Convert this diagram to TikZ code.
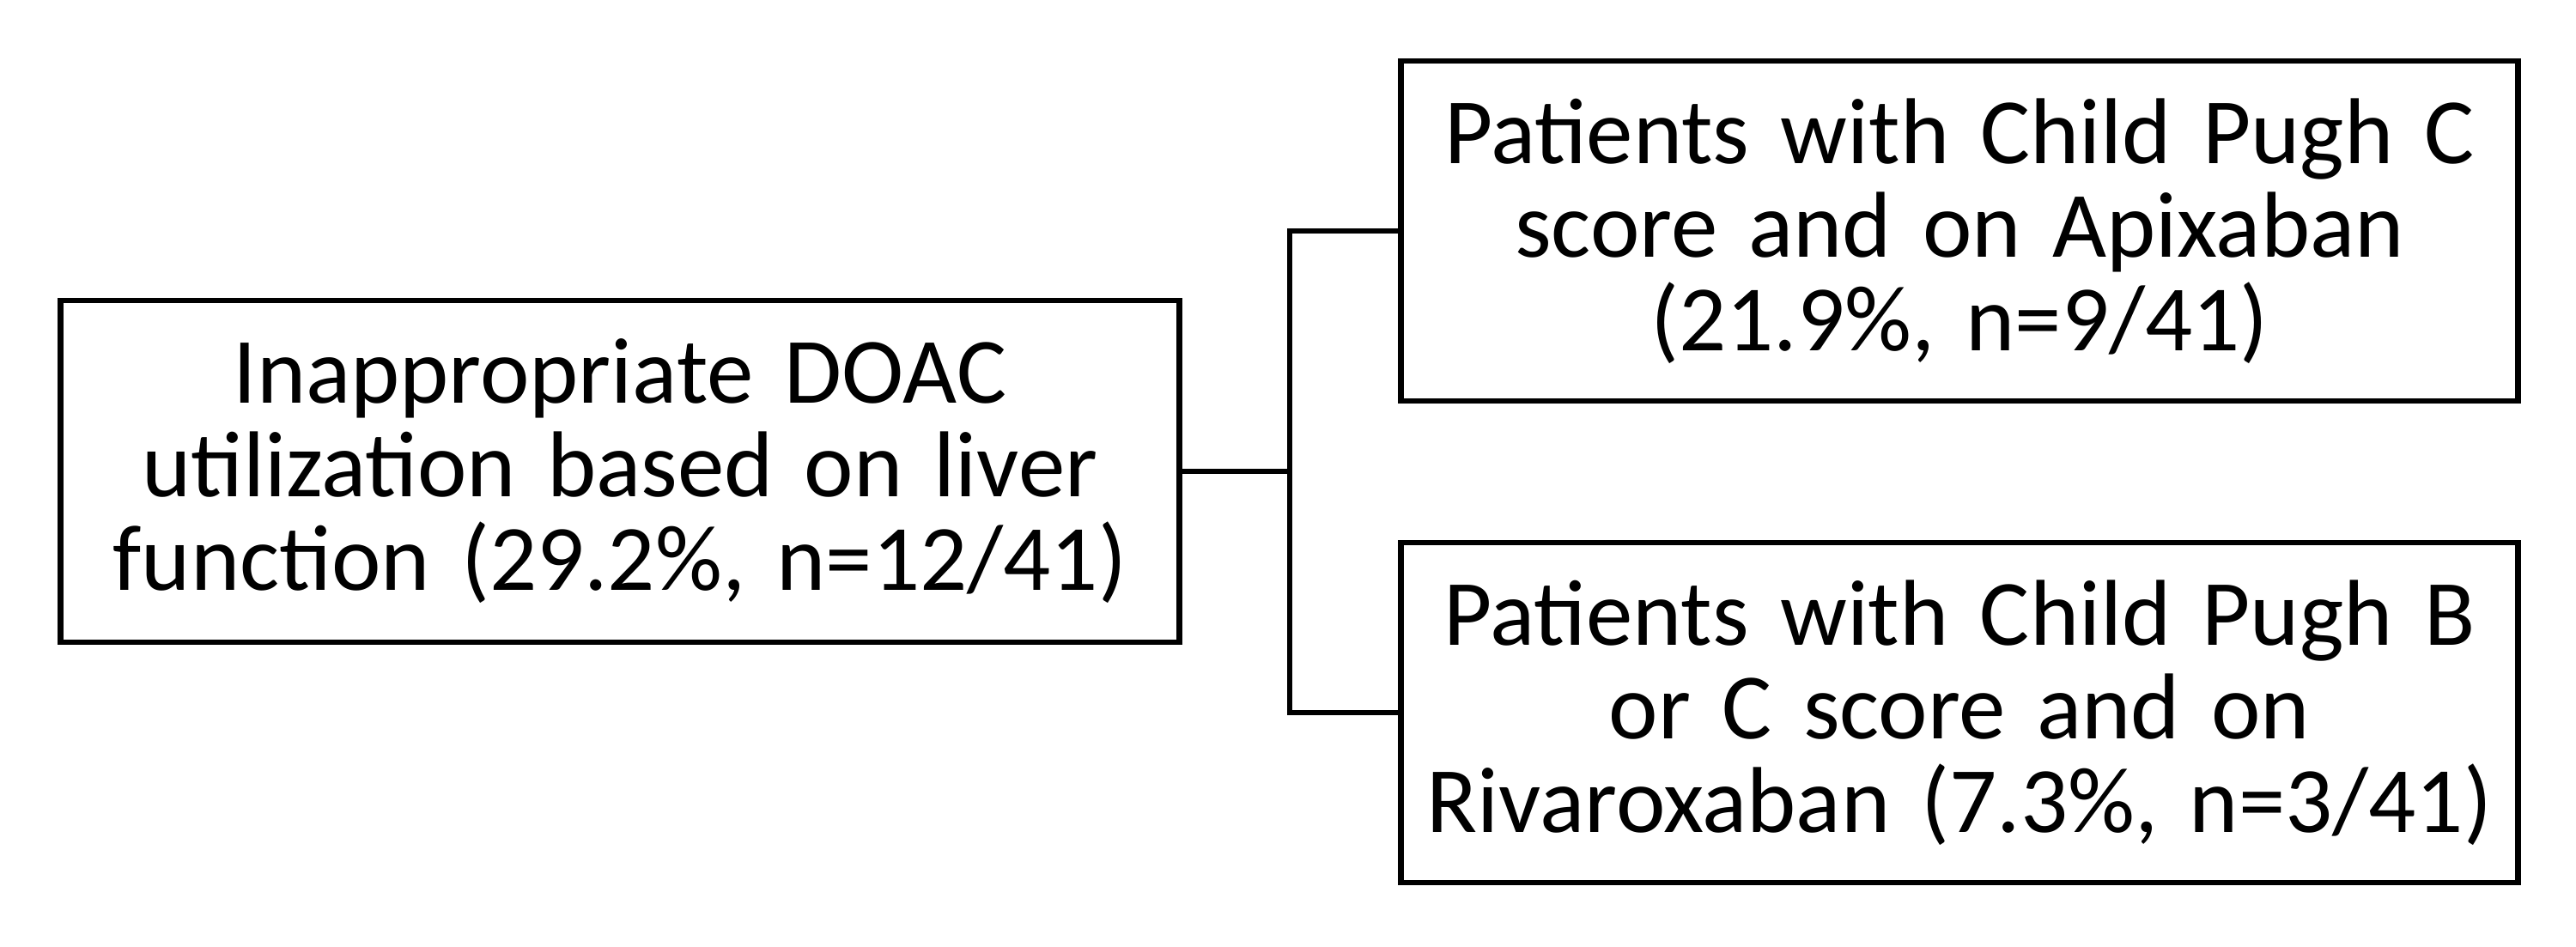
\documentclass[tikz,border=0pt]{standalone}
\usepackage{fontspec}
\setmainfont{Carlito}
\begin{document}
\begin{tikzpicture}[
  box/.style={draw, line width=1.8pt, align=center, inner sep=0pt,
    font=\fontsize{31}{31}\selectfont, text width=13cm},
  conn/.style={line width=1.8pt}]
\useasboundingbox (0,0) rectangle (30,-11.03);
\node[box, minimum width=13.03cm, minimum height=3.98cm] (L) at (7.22,-5.49)
  {Inappropriate DOAC\\utilization based on liver\\function (29.2\%, n=12/41)};
\node[box, minimum width=13.01cm, minimum height=3.96cm] (A) at (22.82,-2.69)
  {Patients with Child Pugh C\\score and on Apixaban\\(21.9\%, n=9/41)};
\node[box, minimum width=13.01cm, minimum height=3.96cm] (B) at (22.82,-8.30)
  {Patients with Child Pugh B\\or C score and on\\Rivaroxaban (7.3\%, n=3/41)};
\coordinate (J) at (15.02,-5.49);
\draw[conn] (L.east) -- (J);
\draw[conn] (A.west) -| (J) |- (B.west);
\end{tikzpicture}
\end{document}
